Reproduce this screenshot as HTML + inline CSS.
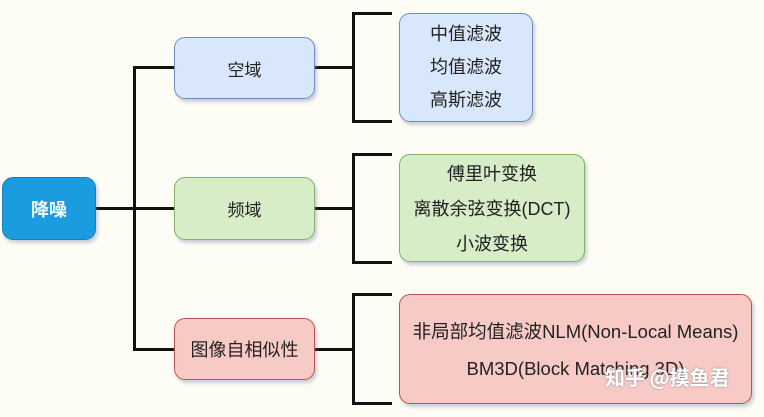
<!DOCTYPE html>
<html><head><meta charset="utf-8"><style>
body{margin:0;width:764px;height:417px;background:#fdfcf5;position:relative;overflow:hidden;font-family:"Liberation Sans","Noto Sans CJK SC",sans-serif;}
.b{position:absolute;box-sizing:border-box;border-radius:11px;display:flex;flex-direction:column;align-items:center;justify-content:center;font-size:17px;color:#222;box-shadow:2px 3px 3px rgba(120,120,160,0.35);text-align:center;white-space:nowrap;}
.l{position:absolute;background:#111;}
</style></head><body>
<div class="l" style="left:96px;top:207px;width:79px;height:3px"></div>
<div class="l" style="left:133px;top:66px;width:3px;height:285px"></div>
<div class="l" style="left:133px;top:66px;width:42px;height:3px"></div>
<div class="l" style="left:133px;top:348px;width:42px;height:3px"></div>

<div class="l" style="left:315px;top:66px;width:39px;height:3px"></div>
<div class="l" style="left:352px;top:12px;width:3px;height:111px"></div>
<div class="l" style="left:352px;top:12px;width:40px;height:3px"></div>
<div class="l" style="left:352px;top:120px;width:40px;height:3px"></div>

<div class="l" style="left:315px;top:207px;width:39px;height:3px"></div>
<div class="l" style="left:352px;top:153px;width:3px;height:111px"></div>
<div class="l" style="left:352px;top:153px;width:40px;height:3px"></div>
<div class="l" style="left:352px;top:261px;width:40px;height:3px"></div>

<div class="l" style="left:315px;top:348px;width:39px;height:3px"></div>
<div class="l" style="left:352px;top:293px;width:3px;height:112px"></div>
<div class="l" style="left:352px;top:293px;width:40px;height:3px"></div>
<div class="l" style="left:352px;top:402px;width:40px;height:3px"></div>

<div class="b" style="left:2px;top:177px;width:94px;height:63px;background:#1b9be0;border:1.5px solid #1a7fb5;color:#fff;font-weight:bold;font-size:18px">降噪</div>
<div class="b" style="left:174px;top:37px;width:141px;height:62px;background:#d8e7fb;border:1.5px solid #6c8ebf">空域</div>
<div class="b" style="left:174px;top:177px;width:141px;height:63px;background:#d6edc8;border:1.5px solid #82b366">频域</div>
<div class="b" style="left:174px;top:318px;width:141px;height:62px;background:#f8cac6;border:1.5px solid #b85450;font-size:18px">图像自相似性</div>

<div class="b" style="left:399px;top:13px;width:134px;height:109px;background:#d8e7fb;border:1.5px solid #6c8ebf;line-height:33px;font-size:18px">中值滤波<br>均值滤波<br>高斯滤波</div>
<div class="b" style="left:399px;top:154px;width:186px;height:108px;background:#d6edc8;border:1.5px solid #82b366;line-height:35px;display:block;padding-top:2px;font-size:18px">傅里叶变换<br>离散余弦变换(DCT)<br>小波变换</div>
<div class="b" style="left:399px;top:294px;width:353px;height:110px;background:#f8cac6;border:1.5px solid #b85450;line-height:37px;display:block;padding-top:18px;font-size:18.5px">非局部均值滤波NLM(Non-Local Means)<br>BM3D(Block Matching 3D)</div>

<div style="position:absolute;left:605px;top:362px;font-size:20px;color:#fff;text-shadow:0 0 2px #888;font-weight:bold;font-family:'Noto Sans CJK SC',sans-serif">知乎 @摸鱼君</div>
</body></html>
